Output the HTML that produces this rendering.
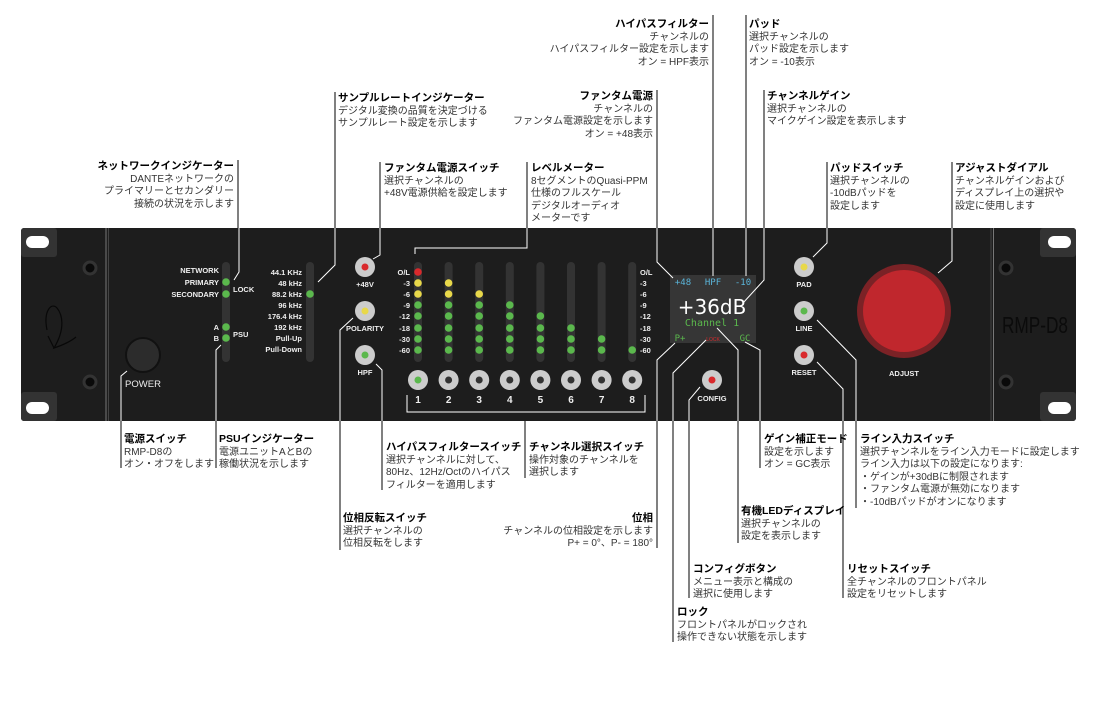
<!DOCTYPE html>
<html><head><meta charset="utf-8">
<style>
body{margin:0;width:1120px;height:712px;background:#fff;position:relative;overflow:hidden;font-family:"Liberation Sans","Noto Sans CJK JP",sans-serif;}
.t{position:absolute;font-size:10px;line-height:12.5px;color:#333;white-space:nowrap;}
.t b{color:#000;font-size:10.5px;}
.r{text-align:right;}
svg{position:absolute;left:0;top:0;}
</style></head><body>
<svg width="1120" height="712" viewBox="0 0 1120 712" font-family="Liberation Sans, sans-serif">
<rect x="21" y="228" width="1055" height="193" rx="3" fill="#1d1d1d"/>
<rect x="21" y="228" width="36" height="29" rx="3" fill="#333"/>
<rect x="21" y="392" width="36" height="29" rx="3" fill="#333"/>
<rect x="1040" y="228" width="36" height="29" rx="3" fill="#333"/>
<rect x="1040" y="392" width="36" height="29" rx="3" fill="#333"/>
<rect x="26" y="236" width="23" height="12" rx="6" fill="#fff"/>
<rect x="26" y="402" width="23" height="12" rx="6" fill="#fff"/>
<rect x="1048" y="236" width="23" height="12" rx="6" fill="#fff"/>
<rect x="1048" y="402" width="23" height="12" rx="6" fill="#fff"/>
<g fill="#0a0a0a" stroke="#333" stroke-width="3"><circle cx="90" cy="268" r="6"/><circle cx="90" cy="382" r="6"/><circle cx="1006" cy="268" r="6"/><circle cx="1006" cy="382" r="6"/></g>
<line x1="106" y1="228" x2="106" y2="421" stroke="#777" stroke-width="1"/>
<line x1="108.5" y1="228" x2="108.5" y2="421" stroke="#444" stroke-width="1"/>
<line x1="991" y1="228" x2="991" y2="421" stroke="#444" stroke-width="1"/>
<line x1="993.5" y1="228" x2="993.5" y2="421" stroke="#777" stroke-width="1"/>
<path d="M47 330 C43 310 52 302 57 308 C62 314 66 328 54 348 C60 346 70 342 76 337 M54 348 L48 336" stroke="#080808" stroke-width="1.2" fill="none"/>
<text x="1035" y="333" font-size="23" fill="#0b0b0b" text-anchor="middle" textLength="66" lengthAdjust="spacingAndGlyphs">RMP-D8</text>
<circle cx="143" cy="355" r="17" fill="#2c2c2c" stroke="#111" stroke-width="2"/>
<text x="143" y="387" font-size="9.5" fill="#eee" text-anchor="middle">POWER</text>
<rect x="222" y="262" width="8" height="100" rx="4" fill="#333"/>
<g fill="#5bb84d"><circle cx="226" cy="282" r="3.8"/><circle cx="226" cy="294" r="3.8"/><circle cx="226" cy="327" r="3.8"/><circle cx="226" cy="338" r="3.8"/></g>
<g font-size="7.5" fill="#eee" font-weight="bold" text-anchor="end">
<text x="219" y="273">NETWORK</text><text x="219" y="285">PRIMARY</text><text x="219" y="297">SECONDARY</text><text x="219" y="330">A</text><text x="219" y="341">B</text></g>
<g font-size="7.5" fill="#eee" font-weight="bold"><text x="233" y="292">LOCK</text><text x="233" y="337">PSU</text></g>
<rect x="306" y="262" width="8" height="100" rx="4" fill="#333"/>
<circle cx="310" cy="294" r="3.8" fill="#5bb84d"/>
<g font-size="7.5" fill="#eee" font-weight="bold" text-anchor="end">
<text x="302" y="275">44.1 KHz</text><text x="302" y="286">48 kHz</text><text x="302" y="297">88.2 kHz</text><text x="302" y="308">96 kHz</text><text x="302" y="319">176.4 kHz</text><text x="302" y="330">192 kHz</text><text x="302" y="341">Pull-Up</text><text x="302" y="352">Pull-Down</text></g>
<g fill="#ccc"><circle cx="365" cy="267" r="10"/><circle cx="365" cy="311" r="10"/><circle cx="365" cy="355" r="10"/>
<circle cx="804" cy="267" r="10"/><circle cx="804" cy="311" r="10"/><circle cx="804" cy="355" r="10"/><circle cx="712" cy="380" r="10"/></g>
<circle cx="365" cy="267" r="3.5" fill="#d9292c"/><circle cx="365" cy="311" r="3.5" fill="#e8d84a"/><circle cx="365" cy="355" r="3.5" fill="#5bb84d"/>
<circle cx="804" cy="267" r="3.5" fill="#e8d84a"/><circle cx="804" cy="311" r="3.5" fill="#5bb84d"/><circle cx="804" cy="355" r="3.5" fill="#d9292c"/><circle cx="712" cy="380" r="3.5" fill="#d9292c"/>
<g font-size="7.5" fill="#eee" font-weight="bold" text-anchor="middle">
<text x="365" y="287">+48V</text><text x="365" y="331">POLARITY</text><text x="365" y="375">HPF</text>
<text x="804" y="287">PAD</text><text x="804" y="331">LINE</text><text x="804" y="375">RESET</text><text x="712" y="401">CONFIG</text><text x="904" y="376">ADJUST</text></g>
<g id="m"></g>
<g font-size="7.5" fill="#eee" font-weight="bold" text-anchor="end">
<text x="410" y="275">O/L</text><text x="410" y="286">-3</text><text x="410" y="297">-6</text><text x="410" y="308">-9</text><text x="410" y="319">-12</text><text x="410" y="331">-18</text><text x="410" y="342">-30</text><text x="410" y="353">-60</text></g>
<g font-size="7.5" fill="#eee" font-weight="bold">
<text x="640" y="275">O/L</text><text x="640" y="286">-3</text><text x="640" y="297">-6</text><text x="640" y="308">-9</text><text x="640" y="319">-12</text><text x="640" y="331">-18</text><text x="640" y="342">-30</text><text x="640" y="353">-60</text></g>
<rect x="670" y="275" width="86" height="68" fill="#363636"/>
<g font-family="DejaVu Sans Mono, monospace" font-size="9" fill="#5ab4d8" text-anchor="middle"><text x="683" y="285">+48</text><text x="713" y="285">HPF</text><text x="743" y="285">-10</text></g>
<text x="712" y="314" font-family="DejaVu Sans, sans-serif" font-size="20" fill="#fff" text-anchor="middle">+36dB</text>
<g font-family="DejaVu Sans Mono, monospace" fill="#5bb84d" text-anchor="middle"><text x="712" y="326" font-size="10">Channel 1</text><text x="680" y="341" font-size="9">P+</text><text x="745" y="341" font-size="9">GC</text></g>
<text x="713" y="341" font-size="5" fill="#d9292c" text-anchor="middle">LOCK</text>
<circle cx="904" cy="311" r="47" fill="#7b2226"/><circle cx="904" cy="311" r="41" fill="#c0272d"/>
<g stroke="#fff" stroke-width="1" fill="none">
<polyline points="239,228 239,272 234,280"/>
<polyline points="335,228 335,265 318,282"/>
<polyline points="380,228 380,255 373,259"/>
<polyline points="527,228 527,248 415,248 415,254 M527,248 636,248 636,254"/>
<polyline points="657,228 657,262 673,278"/>
<polyline points="713,228 713,276"/>
<polyline points="746,228 746,276"/>
<polyline points="764,228 764,280 743,303"/>
<polyline points="827,228 827,243 813,257"/>
<polyline points="952,228 952,261 938,273"/>
<polyline points="127,371 121,376 121,421"/>
<polyline points="221,345 216,350 216,421"/>
<polyline points="353,318 340,330 340,421"/>
<polyline points="376,364 382,370 382,421"/>
<polyline points="407,395 407,412 645,412 645,395 M525,412 525,421"/>
<polyline points="675,343 657,360 657,421"/>
<polyline points="706,340 673,373 673,421"/>
<polyline points="700,387 689,400 689,421"/>
<polyline points="717,328 738,350 738,421"/>
<polyline points="745,342 760,350 760,421"/>
<polyline points="817,320 856,360 856,421"/>
<polyline points="817,362 843,389 843,421"/>
</g>
<g stroke="#000" stroke-width="1" fill="none">
<line x1="713" y1="15" x2="713" y2="228"/><line x1="746" y1="15" x2="746" y2="228"/>
<line x1="657" y1="90" x2="657" y2="228"/><line x1="764" y1="90" x2="764" y2="228"/>
<line x1="335" y1="92" x2="335" y2="228"/><line x1="238" y1="160" x2="238" y2="228"/>
<line x1="380" y1="162" x2="380" y2="228"/><line x1="527" y1="162" x2="527" y2="228"/>
<line x1="827" y1="162" x2="827" y2="228"/><line x1="952" y1="162" x2="952" y2="228"/>
<line x1="121" y1="421" x2="121" y2="468"/><line x1="216" y1="421" x2="216" y2="468"/>
<line x1="382" y1="421" x2="382" y2="490"/><line x1="525" y1="421" x2="525" y2="478"/>
<line x1="340" y1="421" x2="340" y2="550"/><line x1="657" y1="421" x2="657" y2="548"/>
<line x1="673" y1="421" x2="673" y2="642"/><line x1="689" y1="421" x2="689" y2="598"/>
<line x1="738" y1="421" x2="738" y2="543"/><line x1="760" y1="421" x2="760" y2="468"/>
<line x1="856" y1="421" x2="856" y2="508"/><line x1="843" y1="421" x2="843" y2="598"/>
</g>
</svg>
<script>
var g=document.getElementById('m'),s='';
var ys=[272,283,294,305,316,328,339,350];
for(var c=0;c<8;c++){var x=418+c*30.6;
s+='<rect x="'+(x-4)+'" y="262" width="8" height="100" rx="4" fill="#333"/>';
for(var r=c;r<8;r++){var col=r>=3?'#5bb84d':(r==0?'#d9292c':'#e8d84a');
s+='<circle cx="'+x+'" cy="'+ys[r]+'" r="3.8" fill="'+col+'"/>';}
s+='<circle cx="'+x+'" cy="380" r="10" fill="#ccc"/><circle cx="'+x+'" cy="380" r="3.5" fill="'+(c==0?'#5bb84d':'#333')+'"/>';
s+='<text x="'+x+'" y="403" font-size="10" fill="#eee" font-weight="bold" text-anchor="middle">'+(c+1)+'</text>';}
g.innerHTML=s;
</script>
<div class="t r" style="right:411px;top:18px"><b>ハイパスフィルター</b><br>チャンネルの<br>ハイパスフィルター設定を示します<br>オン = HPF表示</div>
<div class="t" style="left:749px;top:18px"><b>パッド</b><br>選択チャンネルの<br>パッド設定を示します<br>オン = -10表示</div>
<div class="t r" style="right:467px;top:90px"><b>ファンタム電源</b><br>チャンネルの<br>ファンタム電源設定を示します<br>オン = +48表示</div>
<div class="t" style="left:767px;top:90px"><b>チャンネルゲイン</b><br>選択チャンネルの<br>マイクゲイン設定を表示します</div>
<div class="t" style="left:338px;top:92px"><b>サンプルレートインジケーター</b><br>デジタル変換の品質を決定づける<br>サンプルレート設定を示します</div>
<div class="t r" style="right:886px;top:160px"><b>ネットワークインジケーター</b><br>DANTEネットワークの<br>プライマリーとセカンダリー<br>接続の状況を示します</div>
<div class="t" style="left:384px;top:162px"><b>ファンタム電源スイッチ</b><br>選択チャンネルの<br>+48V電源供給を設定します</div>
<div class="t" style="left:531px;top:162px"><b>レベルメーター</b><br>8セグメントのQuasi-PPM<br>仕様のフルスケール<br>デジタルオーディオ<br>メーターです</div>
<div class="t" style="left:830px;top:162px"><b>パッドスイッチ</b><br>選択チャンネルの<br>-10dBパッドを<br>設定します</div>
<div class="t" style="left:955px;top:162px"><b>アジャストダイアル</b><br>チャンネルゲインおよび<br>ディスプレイ上の選択や<br>設定に使用します</div>
<div class="t" style="left:124px;top:433px"><b>電源スイッチ</b><br>RMP-D8の<br>オン・オフをします</div>
<div class="t" style="left:219px;top:433px"><b>PSUインジケーター</b><br>電源ユニットAとBの<br>稼働状況を示します</div>
<div class="t" style="left:386px;top:441px"><b>ハイパスフィルタースイッチ</b><br>選択チャンネルに対して、<br>80Hz、12Hz/Octのハイパス<br>フィルターを適用します</div>
<div class="t" style="left:529px;top:441px"><b>チャンネル選択スイッチ</b><br>操作対象のチャンネルを<br>選択します</div>
<div class="t" style="left:764px;top:433px"><b>ゲイン補正モード</b><br>設定を示します<br>オン = GC表示</div>
<div class="t" style="left:860px;top:433px"><b>ライン入力スイッチ</b><br>選択チャンネルをライン入力モードに設定します<br>ライン入力は以下の設定になります:<br>・ゲインが+30dBに制限されます<br>・ファンタム電源が無効になります<br>・-10dBパッドがオンになります</div>
<div class="t" style="left:343px;top:512px"><b>位相反転スイッチ</b><br>選択チャンネルの<br>位相反転をします</div>
<div class="t r" style="right:467px;top:512px"><b>位相</b><br>チャンネルの位相設定を示します<br>P+ = 0°、P- = 180°</div>
<div class="t" style="left:741px;top:505px"><b>有機LEDディスプレイ</b><br>選択チャンネルの<br>設定を表示します</div>
<div class="t" style="left:693px;top:563px"><b>コンフィグボタン</b><br>メニュー表示と構成の<br>選択に使用します</div>
<div class="t" style="left:847px;top:563px"><b>リセットスイッチ</b><br>全チャンネルのフロントパネル<br>設定をリセットします</div>
<div class="t" style="left:677px;top:606px"><b>ロック</b><br>フロントパネルがロックされ<br>操作できない状態を示します</div>
</body></html>
